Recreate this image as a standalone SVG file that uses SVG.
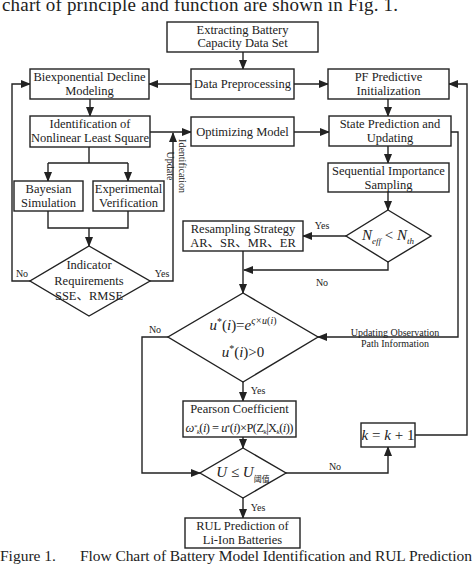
<svg xmlns="http://www.w3.org/2000/svg" width="474" height="573" viewBox="0 0 474 573">
<style>
.b{fill:#fff;stroke:#222;stroke-width:1.4}
.c{fill:none;stroke:#222;stroke-width:1.4}
.t{font-family:'Liberation Serif','Noto Sans CJK SC',serif;font-size:12.5px;fill:#222;text-anchor:middle}
.s{font-family:'Liberation Serif',serif;font-size:10px;fill:#222;text-anchor:middle}
.m{font-family:'Liberation Serif','Noto Sans CJK SC',serif;font-size:15px;fill:#222;text-anchor:middle}
.i{font-style:italic}
</style>
<defs>
<marker id="a" markerUnits="userSpaceOnUse" markerWidth="10" markerHeight="8" refX="9" refY="4" orient="auto">
<path d="M0,0 L10,4 L0,8 Z" fill="#222"/>
</marker>
</defs>
<rect width="474" height="573" fill="#fff"/>
<text x="2" y="11" font-family="'Liberation Serif',serif" font-size="19" fill="#222" textLength="396">chart of principle and function are shown in Fig. 1.</text>

<g id="connectors" class="c">
<path d="M243,52 V69" marker-end="url(#a)"/>
<path d="M191,84 H149" marker-end="url(#a)"/>
<path d="M294,84 H328" marker-end="url(#a)"/>
<path d="M90,99 V116" marker-end="url(#a)"/>
<path d="M150,132 H191" marker-end="url(#a)"/>
<path d="M294,132 H329" marker-end="url(#a)"/>
<path d="M388,99 V116" marker-end="url(#a)"/>
<path d="M388,146 V163" marker-end="url(#a)"/>
<path d="M388,192 V210" marker-end="url(#a)"/>
<path d="M89,147 V163 M48,163 H128"/>
<path d="M48,163 V181" marker-end="url(#a)"/>
<path d="M128,163 V181" marker-end="url(#a)"/>
<path d="M48,211 V228 H128 V211"/>
<path d="M89,228 V246" marker-end="url(#a)"/>
<path d="M30,281 H12 V84 H30" marker-end="url(#a)"/>
<path d="M150,281 H173 V133" marker-end="url(#a)"/>
<path d="M346,236 H303" marker-end="url(#a)"/>
<path d="M388,262 V270 H244" marker-end="url(#a)"/>
<path d="M243,251 V293" marker-end="url(#a)"/>
<path d="M451,132 H458 V337 H318" marker-end="url(#a)"/>
<path d="M168,337 H142 V473 H200" marker-end="url(#a)"/>
<path d="M243,382 V401" marker-end="url(#a)"/>
<path d="M243,437 V448" marker-end="url(#a)"/>
<path d="M286,473 H388 V447" marker-end="url(#a)"/>
<path d="M415,435 H467 V84 H449" marker-end="url(#a)"/>
<path d="M243,498 V518" marker-end="url(#a)"/>
</g>

<g id="labels">
<text class="s" x="22" y="277">No</text>
<text class="s" x="162" y="277">Yes</text>
<text class="s" transform="translate(179,166) rotate(90)">Identification</text>
<text class="s" transform="translate(167,166) rotate(90)">Update</text>
<text class="s" x="322" y="229">Yes</text>
<text class="s" x="322" y="286">No</text>
<text class="s" x="155" y="333">No</text>
<text class="s" x="395" y="336" font-size="10.5">Updating Observation</text>
<text class="s" x="395" y="347" font-size="10.5">Path Information</text>
<text class="s" x="258" y="394">Yes</text>
<text class="s" x="335" y="470">No</text>
<text class="s" x="258" y="511">Yes</text>
</g>

<g id="extract"><rect class="b" x="167" y="22" width="151" height="30"/>
<text class="t" x="242.5" y="34">Extracting Battery</text><text class="t" x="242.5" y="47">Capacity Data Set</text></g>
<g id="preprocess"><rect class="b" x="191" y="69" width="103" height="30"/>
<text class="t" x="242.5" y="88">Data Preprocessing</text></g>
<g id="biexp"><rect class="b" x="30" y="69" width="119" height="30"/>
<text class="t" x="89.5" y="81">Biexponential Decline</text><text class="t" x="89.5" y="95">Modeling</text></g>
<g id="pfinit"><rect class="b" x="328" y="69" width="121" height="30"/>
<text class="t" x="388.5" y="81">PF Predictive</text><text class="t" x="388.5" y="95">Initialization</text></g>
<g id="ident"><rect class="b" x="30" y="116" width="120" height="31"/>
<text class="t" x="90" y="128">Identification of</text><text class="t" x="90" y="142">Nonlinear Least Square</text></g>
<g id="optim"><rect class="b" x="191" y="117" width="103" height="29"/>
<text class="t" x="242.5" y="136">Optimizing Model</text></g>
<g id="state"><rect class="b" x="329" y="116" width="122" height="30"/>
<text class="t" x="390" y="128">State Prediction and</text><text class="t" x="390" y="142">Updating</text></g>
<g id="sis"><rect class="b" x="328" y="163" width="121" height="29"/>
<text class="t" x="388.5" y="175">Sequential Importance</text><text class="t" x="388.5" y="189">Sampling</text></g>
<g id="bayes"><rect class="b" x="14" y="181" width="69" height="30"/>
<text class="t" x="48.5" y="193">Bayesian</text><text class="t" x="48.5" y="207">Simulation</text></g>
<g id="exper"><rect class="b" x="93" y="181" width="71" height="30"/>
<text class="t" x="128.5" y="193">Experimental</text><text class="t" x="128.5" y="207">Verification</text></g>
<g id="indicator"><path class="b" d="M89,246 L150,281 L89,316 L30,281 Z"/>
<text class="t" x="89" y="269">Indicator</text><text class="t" x="89" y="285">Requirements</text><text class="t" x="89" y="300">SSE、RMSE</text></g>
<g id="neff"><path class="b" d="M388,210 L431,236 L388,262 L346,236 Z"/>
<text class="m" x="388" y="240" font-size="14"><tspan class="i">N</tspan><tspan class="i" font-size="9" dy="4">eff</tspan><tspan dy="-4"> &lt; </tspan><tspan class="i">N</tspan><tspan class="i" font-size="9" dy="4">th</tspan></text></g>
<g id="resample"><rect class="b" x="183" y="221" width="120" height="30"/>
<text class="t" x="243" y="233">Resampling Strategy</text><text class="t" x="243" y="247">AR、SR、MR、ER</text></g>
<g id="udiamond"><path class="b" d="M243,293 L318,337 L243,382 L168,337 Z"/>
<text class="m" x="243" y="330"><tspan class="i">u</tspan><tspan font-size="10" dy="-5">*</tspan><tspan dy="5">(</tspan><tspan class="i">i</tspan><tspan>)=</tspan><tspan class="i">e</tspan><tspan class="i" font-size="10" dy="-6">ς×u</tspan><tspan font-size="10">(</tspan><tspan class="i" font-size="10">i</tspan><tspan font-size="10">)</tspan></text>
<text class="m" x="243" y="357"><tspan class="i">u</tspan><tspan font-size="10" dy="-5">*</tspan><tspan dy="5">(</tspan><tspan class="i">i</tspan><tspan>)&gt;0</tspan></text></g>
<g id="pearson"><rect class="b" x="183" y="401" width="113" height="36"/>
<text class="t" x="239.5" y="413">Pearson Coefficient</text>
<text class="t" x="239.5" y="432" font-size="10" textLength="108"><tspan class="i">ω</tspan><tspan class="i" font-size="7" dy="-3">*</tspan><tspan class="i" font-size="7" dy="5">k</tspan><tspan dy="-2">(</tspan><tspan class="i">i</tspan><tspan>) = </tspan><tspan class="i">u</tspan><tspan font-size="7" dy="-3">*</tspan><tspan dy="3">(</tspan><tspan class="i">i</tspan><tspan>)×P(Z</tspan><tspan class="i" font-size="7" dy="2">k</tspan><tspan dy="-2">|X</tspan><tspan class="i" font-size="7" dy="2">k</tspan><tspan dy="-2">(</tspan><tspan class="i">i</tspan><tspan>))</tspan></text></g>
<g id="ucheck"><path class="b" d="M243,448 L286,473 L243,498 L200,473 Z"/>
<text class="m" x="243" y="477"><tspan class="i">U</tspan><tspan> ≤ </tspan><tspan class="i">U</tspan><tspan font-size="8" dy="5">阈值</tspan></text></g>
<g id="kinc"><rect class="b" x="361" y="423" width="54" height="24"/>
<text class="m" x="388" y="440" font-size="14"><tspan class="i">k</tspan> = <tspan class="i">k</tspan> + 1</text></g>
<g id="rul"><rect class="b" x="185" y="518" width="115" height="30"/>
<text class="t" x="242.5" y="530">RUL Prediction of</text><text class="t" x="242.5" y="544">Li-Ion Batteries</text></g>

<text x="0" y="561" font-family="'Liberation Serif',serif" font-size="15.5" fill="#222">Figure 1.</text>
<text x="80" y="561" font-family="'Liberation Serif',serif" font-size="15.5" fill="#222" textLength="392">Flow Chart of Battery Model Identification and RUL Prediction</text>
</svg>
